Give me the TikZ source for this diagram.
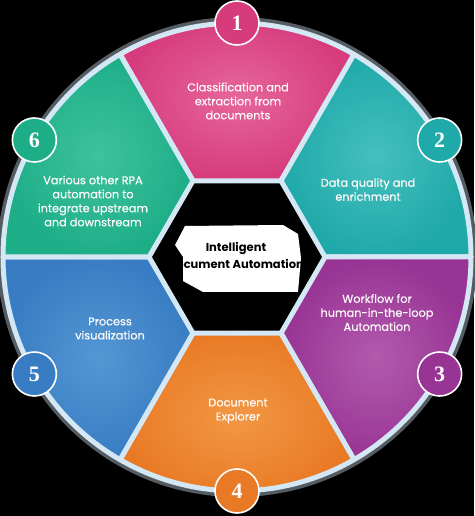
\documentclass[tikz,border=0pt]{standalone}
\usepackage{fontspec}
\setmainfont{Poppins}
\newfontfamily\segfont[FakeBold=0.4]{Poppins}
\newfontfamily\numfont{Liberation Serif}
\definecolor{edge}{HTML}{D3E7F4}
\definecolor{pnk}{HTML}{D63B7B}\definecolor{pnkL}{HTML}{E6679C}
\definecolor{tel}{HTML}{1FA9A8}\definecolor{telL}{HTML}{45C0BE}
\definecolor{prp}{HTML}{983494}\definecolor{prpL}{HTML}{B25AAE}
\definecolor{org}{HTML}{E97A25}\definecolor{orgL}{HTML}{F29744}
\definecolor{blu}{HTML}{387DC3}\definecolor{bluL}{HTML}{5497D4}
\definecolor{grn}{HTML}{1DAE87}\definecolor{grnL}{HTML}{3FC29E}
\tikzset{
  segtext/.style={align=center, text=white!94!pink, font=\segfont\fontsize{11.3}{14}\selectfont},
  numc/.style={circle, draw=white, line width=1.6pt, minimum size=44pt, inner sep=0pt,
    text=white, font=\numfont\bfseries\fontsize{22}{22}\selectfont},
  centertext/.style={align=center, text=black, font=\bfseries\fontsize{11.5}{17}\selectfont}
}
\begin{document}
\begin{tikzpicture}[x=1pt,y=1pt]
\fill[black] (0,0) rectangle (474,516);
\useasboundingbox (0,0) rectangle (474,516);
\begin{scope}[shift={(237,259)}]
  \draw[edge!40!black, line width=4pt] (0,0) circle[radius=238];
  \foreach \a/\c in {60/pnk,0/tel,-60/prp,-120/org,180/blu,120/grn}{
    \pgfmathsetmacro{\b}{\a+60}
    \path[draw=edge, line width=5pt, line join=round, inner color=\c L, outer color=\c]
      (\a:88) -- (\a:234) arc[start angle=\a, end angle=\b, radius=234] -- (\b:88) -- cycle;
  }
  \node[numc, fill=pnk] (n1) at (90:234) {1};
  \node[numc, fill=tel] (n2) at (30:234) {2};
  \node[numc, fill=prp] (n3) at (-30:234) {3};
  \node[numc, fill=org] (n4) at (-90:234) {4};
  \node[numc, fill=blu] (n5) at (-150:234) {5};
  \node[numc, fill=grn] (n6) at (150:234) {6};
\end{scope}
\node[segtext] (t1) at (238,415) {Classification and\\extraction from\\documents};
\node[segtext] (t2) at (368,326.5) {Data quality and\\enrichment};
\node[segtext] (t3) at (377,203.5) {Workflow for\\human-in-the-loop\\Automation};
\node[segtext] (t4) at (238,105) {Document\\Explorer};
\node[segtext] (t5) at (110,187.5) {Process\\visualization};
\node[segtext] (t6) at (93,315) {Various other RPA\\automation to\\integrate upstream\\and downstream};
\begin{scope}
  \path[fill=white] (185,290) -- (283,291) -- (298,282) -- (301,258) -- (298,224) -- (203,224)
    -- (183,235) -- (183,259) -- (175,271) -- cycle;
  \clip (185,290) -- (283,291) -- (298,282) -- (301,258) -- (298,224) -- (203,224)
    -- (183,235) -- (183,259) -- (175,271) -- cycle;
  \node[centertext] (ct) at (236,261) {Intelligent\\Document Automation};
\end{scope}
\end{tikzpicture}
\end{document}
